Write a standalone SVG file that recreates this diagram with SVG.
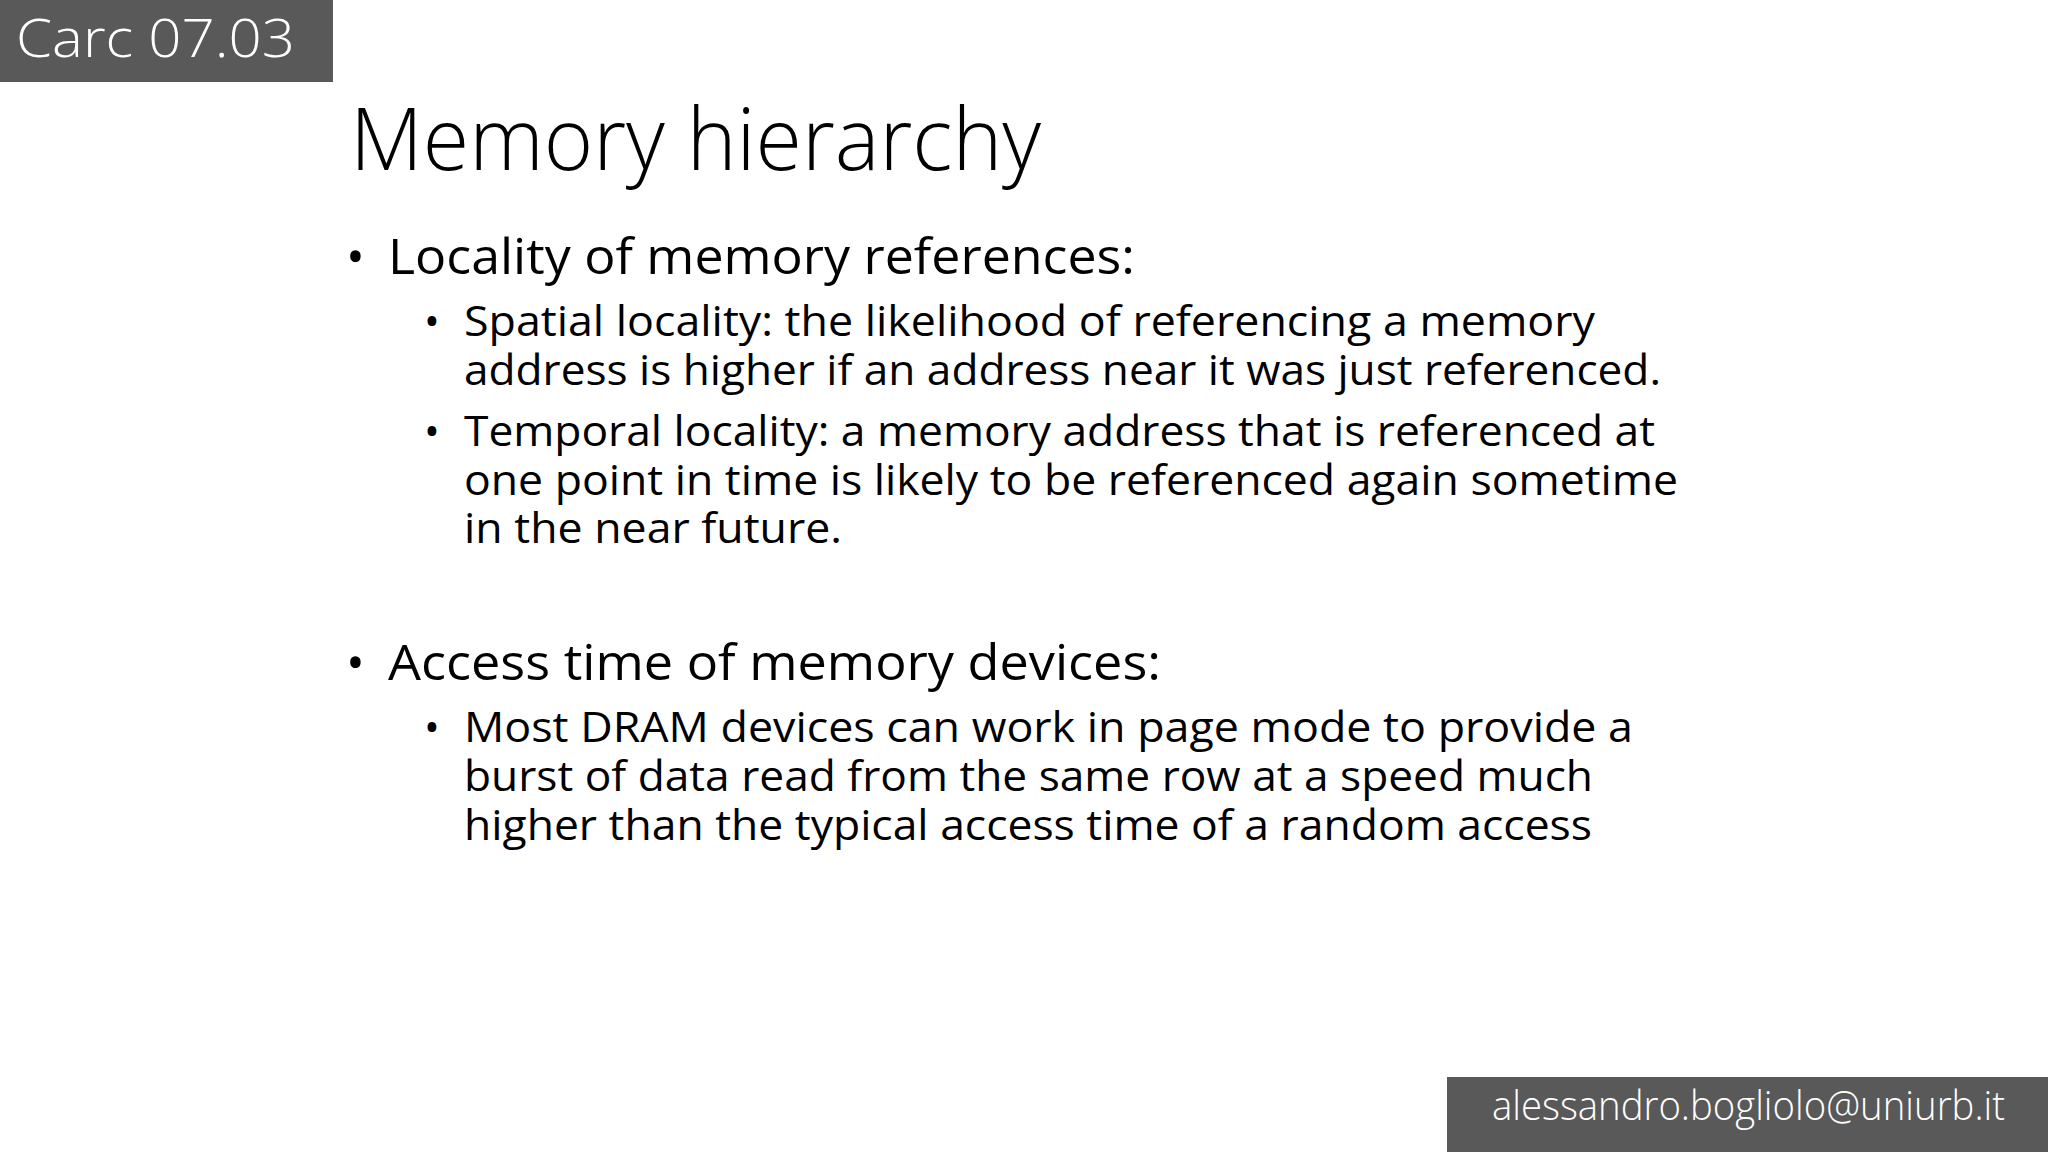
<svg xmlns="http://www.w3.org/2000/svg" width="2048" height="1152" viewBox="0 0 2048 1152">
<style>
text{font-family:"Open Sans","Noto Sans",sans-serif;fill:#000}
.w{fill:#fff;font-weight:300}
.t{font-size:86px;font-weight:300}
.l1{font-size:50px}
.l2{font-size:42px}
</style>
<rect width="2048" height="1152" fill="#fff"/>
<g id="tag">
<rect x="0" y="0" width="333" height="82" fill="#595959"/>
<text class="w" x="16" y="57" font-size="54" textLength="279" lengthAdjust="spacingAndGlyphs">Carc 07.03</text>
</g>
<g id="title"><text class="t" x="350" y="170" textLength="691" lengthAdjust="spacingAndGlyphs">Memory hierarchy</text></g>
<g id="body">
<text class="l1" x="346" y="274">•</text>
<text class="l1" x="388" y="274" textLength="747" lengthAdjust="spacingAndGlyphs">Locality of memory references:</text>
<text class="l2" x="424" y="336">•</text>
<text class="l2" x="464" y="336" textLength="1131" lengthAdjust="spacingAndGlyphs">Spatial locality: the likelihood of referencing a memory</text>
<text class="l2" x="464" y="385" textLength="1197" lengthAdjust="spacingAndGlyphs">address is higher if an address near it was just referenced.</text>
<text class="l2" x="424" y="446">•</text>
<text class="l2" x="464" y="446" textLength="1191" lengthAdjust="spacingAndGlyphs">Temporal locality: a memory address that is referenced at</text>
<text class="l2" x="464" y="495" textLength="1214" lengthAdjust="spacingAndGlyphs">one point in time is likely to be referenced again sometime</text>
<text class="l2" x="464" y="543" textLength="378" lengthAdjust="spacingAndGlyphs">in the near future.</text>
<text class="l1" x="346" y="680">•</text>
<text class="l1" x="388" y="680" textLength="773" lengthAdjust="spacingAndGlyphs">Access time of memory devices:</text>
<text class="l2" x="424" y="742">•</text>
<text class="l2" x="464" y="742" textLength="1169" lengthAdjust="spacingAndGlyphs">Most DRAM devices can work in page mode to provide a</text>
<text class="l2" x="464" y="791" textLength="1129" lengthAdjust="spacingAndGlyphs">burst of data read from the same row at a speed much</text>
<text class="l2" x="464" y="840" textLength="1128" lengthAdjust="spacingAndGlyphs">higher than the typical access time of a random access</text>
</g>
<g id="footer">
<rect x="1447" y="1077" width="601" height="75" fill="#595959"/>
<text class="w" x="1492" y="1120" font-size="40" textLength="513" lengthAdjust="spacingAndGlyphs">alessandro.bogliolo@uniurb.it</text>
</g>
<g id="connectors"/>
</svg>
